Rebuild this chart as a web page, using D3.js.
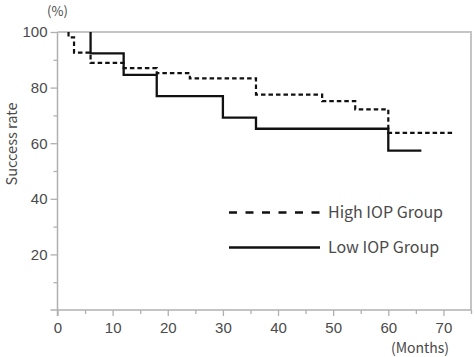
<!DOCTYPE html>
<html>
<head>
<meta charset="utf-8">
<script src="https://cdn.jsdelivr.net/npm/d3@7"></script>
<style>
  body { margin: 0; background: #fff; }
  svg { display: block; font-family: 'Noto Sans CJK JP', 'Noto Sans', sans-serif; }
</style>
</head>
<body>
<div id="chart"></div>
<script>
// Kaplan-Meier steps: time (months) -> success rate (%)
const highTimes = [2, 3, 6, 12, 18, 24, 36, 48, 54, 60];
const highValues = [98.1, 92.6, 88.9, 87.0, 85.2, 83.3, 77.5, 75.1, 72.2, 63.7];
const highEnd = 72;

const lowTimes = [6, 12, 18, 30, 36, 60];
const lowValues = [92.3, 84.6, 76.9, 69.2, 65.2, 57.3];
const lowEnd = 66;

const xTicks = [0, 10, 20, 30, 40, 50, 60, 70];
const xMinorTicks = [5, 15, 25, 35, 45, 55, 65, 75];
const yTicks = [20, 40, 60, 80, 100];
const yMinorTicks = [10, 30, 50, 70, 90];

const legendLabels = ['High IOP Group', 'Low IOP Group'];

const width = 474;
const height = 357;
const margin = { top: 32, right: 3, bottom: 47, left: 57.5 };

const svg = d3
  .select('#chart')
  .append('svg')
  .attr('width', width)
  .attr('height', height);

const x = d3.scaleLinear().domain([0, 75]).range([margin.left, width - margin.right]);
const y = d3.scaleLinear().domain([0, 100]).range([height - margin.bottom, margin.top]);

const axisColor = '#b0b0b0';
const textColor = '#4a4a4a';

// frame top & right
svg.append('path')
  .attr('d', `M${x(0)},${y(100)}H${x(75)}V${y(0)}`)
  .attr('fill', 'none')
  .attr('stroke', '#c4c4c4')
  .attr('stroke-width', 2);

// minor ticks
svg.append('g')
  .attr('transform', `translate(0,${y(0)})`)
  .call(d3.axisBottom(x).tickValues(xMinorTicks).tickSize(4).tickFormat(''))
  .call((g) => g.select('.domain').remove())
  .call((g) => g.selectAll('line').attr('stroke', axisColor).attr('stroke-width', 1.3));

svg.append('g')
  .attr('transform', `translate(${x(0)},0)`)
  .call(d3.axisLeft(y).tickValues(yMinorTicks).tickSize(4).tickFormat(''))
  .call((g) => g.select('.domain').remove())
  .call((g) => g.selectAll('line').attr('stroke', axisColor).attr('stroke-width', 1.3));

// x axis
svg.append('g')
  .attr('transform', `translate(0,${y(0)})`)
  .call(d3.axisBottom(x).tickValues(xTicks).tickSize(6).tickSizeOuter(0).tickPadding(6))
  .call((g) => g.select('.domain').attr('stroke', axisColor).attr('stroke-width', 1.5)
    .attr('d', `M${x(0) - 7},0H${x(75)}`))
  .call((g) => g.selectAll('line').attr('stroke', axisColor).attr('stroke-width', 1.3))
  .call((g) => g.selectAll('text').attr('fill', textColor).style('font-size', '15px'));

// y axis
svg.append('g')
  .attr('transform', `translate(${x(0)},0)`)
  .call(d3.axisLeft(y).tickValues(yTicks).tickSize(7).tickSizeOuter(0).tickPadding(3))
  .call((g) => g.select('.domain').attr('stroke', axisColor).attr('stroke-width', 1.5)
    .attr('d', `M0,${y(100)}V${y(0) + 6}`))
  .call((g) => g.selectAll('line').attr('stroke', axisColor).attr('stroke-width', 1.3))
  .call((g) => g.selectAll('text').attr('fill', textColor).style('font-size', '15px'));

// axis titles
svg.append('text')
  .attr('x', x(0))
  .attr('y', 16)
  .attr('text-anchor', 'middle')
  .attr('fill', textColor)
  .style('font-size', '13px')
  .text('(%)');

svg.append('text')
  .attr('transform', `translate(17,144) rotate(-90)`)
  .attr('text-anchor', 'middle')
  .attr('fill', textColor)
  .style('font-size', '14.5px')
  .text('Success rate');

svg.append('text')
  .attr('x', 420)
  .attr('y', 353)
  .attr('text-anchor', 'middle')
  .attr('fill', textColor)
  .style('font-size', '14px')
  .text('(Months)');

// step curve builder
const stepPoints = (times, values, end) => {
  const pts = [[times[0], 100]];
  times.forEach((t, i) => {
    pts.push([t, values[i]]);
    const next = i < times.length - 1 ? times[i + 1] : end;
    pts.push([next, values[i]]);
  });
  return pts;
};

const line = d3.line().x((d) => x(d[0])).y((d) => y(d[1]));

svg.append('path')
  .attr('d', line(stepPoints(highTimes, highValues, highEnd)))
  .attr('fill', 'none')
  .attr('stroke', '#111')
  .attr('stroke-width', 2.2)
  .attr('stroke-dasharray', '4.5 3');

svg.append('path')
  .attr('d', line(stepPoints(lowTimes, lowValues, lowEnd)))
  .attr('fill', 'none')
  .attr('stroke', '#111')
  .attr('stroke-width', 2.3);

// legend
const legend = svg.append('g');
legendLabels.forEach((label, i) => {
  const ly = 212.5 + i * 35;
  legend.append('line')
    .attr('x1', 229).attr('x2', 320)
    .attr('y1', ly).attr('y2', ly)
    .attr('stroke', '#111')
    .attr('stroke-width', 2.3)
    .attr('stroke-dasharray', i === 0 ? '8 8.5' : null);
  legend.append('text')
    .attr('x', 328)
    .attr('y', ly)
    .attr('dy', '0.35em')
    .attr('fill', textColor)
    .style('font-size', '16px')
    .text(label);
});
</script>
</body>
</html>
